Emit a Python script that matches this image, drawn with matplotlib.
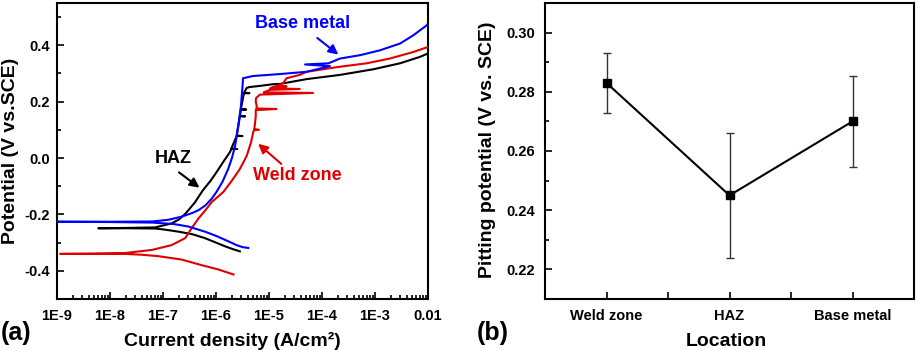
import numpy as np
import matplotlib
matplotlib.use("Agg")
import matplotlib.pyplot as plt
from matplotlib.ticker import LogLocator, FixedLocator, FuncFormatter, MultipleLocator, NullFormatter

plt.rcParams['font.family'] = ['Liberation Sans', 'DejaVu Sans']
plt.rcParams['font.weight'] = 'bold'

# ---------------- data: panel (a) polarization curves ----------------
# log10 of current density (A/cm2) and potential (V vs. SCE)
base_logi = [-5.39, -5.50, -5.61, -5.83, -6.00, -6.21, -6.52, -6.80, -7.20, -8.00, -9.00,
             -8.00, -7.20, -6.90, -6.65, -6.45, -6.33, -6.20, -6.08, -5.99, -5.88, -5.77,
             -5.70, -5.64, -5.58, -5.53, -5.50, -5.49, -5.40, -5.30, -4.79, -4.29, -3.85,
             -4.32, -3.88, -3.66, -3.28, -2.91, -2.53, -2.28, -2.03, -2.00]
base_E = [-0.319, -0.316, -0.309, -0.290, -0.276, -0.261, -0.243, -0.234, -0.229, -0.227, -0.226,
          -0.226, -0.225, -0.219, -0.208, -0.195, -0.185, -0.168, -0.144, -0.120, -0.085, -0.039,
          0.000, 0.043, 0.113, 0.184, 0.254, 0.283, 0.287, 0.291, 0.298, 0.306, 0.326,
          0.332, 0.336, 0.353, 0.365, 0.382, 0.406, 0.435, 0.470, 0.477]

haz_logi = [-5.55, -5.70, -5.83, -6.00, -6.21, -6.45, -6.71, -7.00, -7.15, -7.70, -8.22,
            -7.70, -7.15, -6.84, -6.70, -6.58, -6.40, -6.25, -6.10, -5.99, -5.85, -5.74,
            -5.71, -5.60, -5.71, -5.61, -5.50, -5.61, -5.55, -5.45, -5.55, -5.53, -5.43, -5.53,
            -5.485, -5.47, -5.37, -5.47, -5.42, -5.36, -5.17, -4.92, -4.79, -4.29, -3.66,
            -3.03, -2.53, -2.15, -2.00]
haz_E = [-0.331, -0.322, -0.313, -0.300, -0.284, -0.270, -0.261, -0.253, -0.250, -0.249, -0.249,
         -0.248, -0.246, -0.232, -0.218, -0.198, -0.158, -0.115, -0.080, -0.050, -0.010, 0.020,
         0.032, 0.032, 0.034, 0.078, 0.078, 0.080, 0.148, 0.148, 0.150, 0.172, 0.172, 0.174,
         0.219, 0.230, 0.230, 0.232, 0.249, 0.252, 0.256, 0.262, 0.263, 0.280, 0.295,
         0.315, 0.336, 0.359, 0.371]

weld_logi = [-5.67, -5.96, -6.27, -6.65, -7.09, -7.40, -7.72, -8.30, -8.94,
             -8.30, -7.72, -7.21, -6.84, -6.58, -6.46, -6.33, -6.20, -6.08, -5.86, -5.70,
             -5.55, -5.42, -5.34, -5.30, -5.28, -5.19, -5.28, -5.27, -5.25, -5.25, -4.86,
             -5.24, -5.23, -5.25, -5.245, -5.17, -4.17, -5.10, -4.98, -4.42, -4.98, -4.90,
             -4.67, -4.85, -4.73, -4.67, -4.42, -4.29, -3.66, -3.16, -2.72, -2.28, -2.00]
weld_E = [-0.413, -0.395, -0.380, -0.360, -0.348, -0.343, -0.340, -0.340, -0.340,
          -0.339, -0.337, -0.326, -0.309, -0.284, -0.249, -0.214, -0.185, -0.156, -0.120, -0.080,
          -0.039, 0.008, 0.055, 0.090, 0.100, 0.100, 0.102, 0.113, 0.148, 0.170, 0.174,
          0.176, 0.184, 0.200, 0.213, 0.225, 0.231, 0.233, 0.242, 0.245, 0.247, 0.254,
          0.254, 0.256, 0.266, 0.283, 0.295, 0.306, 0.324, 0.336, 0.353, 0.376, 0.394]

x_tick_labels = ['1E-9', '1E-8', '1E-7', '1E-6', '1E-5', '1E-4', '1E-3', '0.01']

# ---------------- data: panel (b) pitting potential ----------------
locations = ['Weld zone', 'HAZ', 'Base metal']
pitting_potential = [0.283, 0.245, 0.270]
pitting_error = [0.010, 0.021, 0.0153]

W, H = 917, 350
fig = plt.figure(figsize=(W / 100, H / 100), dpi=100)

ax1 = fig.add_axes([57 / W, 1 - 299 / H, (428 - 57) / W, (299 - 3) / H])
ax2 = fig.add_axes([545 / W, 1 - 299 / H, (914 - 545) / W, (299 - 3) / H])

lw = 1.5
ax1.plot(10.0 ** np.array(haz_logi), haz_E, color='black', lw=lw, zorder=3)
ax1.plot(10.0 ** np.array(weld_logi), weld_E, color='#e00000', lw=lw, zorder=4)
ax1.plot(10.0 ** np.array(base_logi), base_E, color='#0000ff', lw=lw, zorder=5)

ax1.set_xscale('log')
ax1.set_xlim(1e-9, 1e-2)
ax1.set_ylim(-0.5, 0.55)
ax1.xaxis.set_major_locator(FixedLocator(10.0 ** np.arange(-9, -1)))
ax1.xaxis.set_major_formatter(FuncFormatter(lambda v, p: x_tick_labels[int(round(np.log10(v))) + 9]))
ax1.xaxis.set_minor_locator(LogLocator(base=10, subs=np.arange(2, 10)))
ax1.xaxis.set_minor_formatter(NullFormatter())
ax1.yaxis.set_major_locator(MultipleLocator(0.2))
ax1.yaxis.set_minor_locator(MultipleLocator(0.1))
ax1.yaxis.set_major_formatter(FuncFormatter(lambda v, p: f'{v:.1f}'))

fs_tick = 10.5
for ax in (ax1, ax2):
    for s in ax.spines.values():
        s.set_linewidth(1.5)
    ax.tick_params(which='both', direction='in', top=False, right=False,
                   labelsize=fs_tick, width=1.2)
    ax.tick_params(which='major', length=5, pad=5)
    ax.tick_params(which='minor', length=3)

ax1.tick_params(axis='x', which='major', pad=7)

# annotations panel (a)
fs_ann = 13
ax1.text(10 ** -4.36, 0.477, 'Base metal', color='#0000ff', fontsize=fs_ann,
         fontweight='bold', ha='center', va='center')
ax1.annotate('', xy=(10 ** -3.65, 0.361), xytext=(10 ** -4.13, 0.432),
             arrowprops=dict(arrowstyle='-|>', color='#0000ff', lw=1.5, mutation_scale=14))
ax1.text(10 ** -6.80, 0.0, 'HAZ', color='black', fontsize=fs_ann,
         fontweight='bold', ha='center', va='center')
ax1.annotate('', xy=(10 ** -6.27, -0.111), xytext=(10 ** -6.74, -0.045),
             arrowprops=dict(arrowstyle='-|>', color='black', lw=1.5, mutation_scale=14))
ax1.text(10 ** -4.46, -0.062, 'Weld zone', color='#e00000', fontsize=fs_ann,
         fontweight='bold', ha='center', va='center')
ax1.annotate('', xy=(10 ** -5.245, 0.057), xytext=(10 ** -4.73, -0.027),
             arrowprops=dict(arrowstyle='-|>', color='#e00000', lw=1.5, mutation_scale=14))

# panel (b)
xpos = np.arange(1, len(locations) + 1)
ax2.errorbar(xpos, pitting_potential, yerr=pitting_error, color='black', lw=1.5,
             marker='s', markersize=6, ecolor='#333333', elinewidth=1.0, capsize=3,
             capthick=1.0)
ax2.set_xlim(0.5, 3.5)
ax2.set_ylim(0.21, 0.31)
ax2.xaxis.set_major_locator(FixedLocator(xpos))
ax2.set_xticklabels(locations)
ax2.xaxis.set_minor_locator(FixedLocator([1.5, 2.5]))
ax2.yaxis.set_major_locator(MultipleLocator(0.02))
ax2.yaxis.set_minor_locator(MultipleLocator(0.01))
ax2.yaxis.set_major_formatter(FuncFormatter(lambda v, p: f'{v:.2f}'))
ax2.tick_params(axis='x', which='both', length=5)
ax2.tick_params(axis='x', which='major', pad=7)
ax2.tick_params(axis='y', which='major', pad=7)
for lab in ax2.get_xticklabels() + ax2.get_yticklabels() + ax1.get_xticklabels() + ax1.get_yticklabels():
    lab.set_fontweight('bold')

# axis labels & panel letters
fs_lab = 14
fig.text(232.5 / W, 1 - 346 / H, 'Current density (A/cm²)', fontsize=fs_lab,
         fontweight='bold', ha='center', va='baseline')
fig.text(11 / W, 1 - 151 / H, 'Potential (V vs.SCE)', fontsize=fs_lab,
         fontweight='bold', ha='center', va='center', rotation=90)
fig.text(726 / W, 1 - 346 / H, 'Location', fontsize=fs_lab,
         fontweight='bold', ha='center', va='baseline')
fig.text(487 / W, 1 - 150 / H, 'Pitting potential (V vs. SCE)', fontsize=fs_lab,
         fontweight='bold', ha='center', va='center', rotation=90)
fig.text(1 / W, 1 - 340 / H, '(a)', fontsize=18, fontweight='bold', ha='left', va='baseline')
fig.text(477 / W, 1 - 340 / H, '(b)', fontsize=18, fontweight='bold', ha='left', va='baseline')

fig.savefig('out.png', dpi=100)
